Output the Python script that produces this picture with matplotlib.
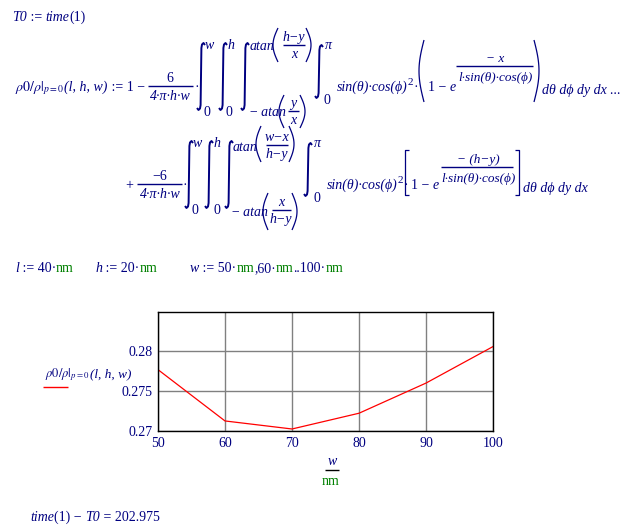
import numpy as np
import matplotlib
matplotlib.use('Agg')
import matplotlib.pyplot as plt
from matplotlib.lines import Line2D

plt.rcParams['font.family'] = 'Liberation Serif'
plt.rcParams['mathtext.fontset'] = 'stix'

# values
w_nm = [50, 60, 70, 80, 90, 100]
ratio = [0.27763, 0.27125, 0.27025, 0.27221, 0.27596, 0.28050]
yticks = [0.27, 0.275, 0.28]
yticklabels = ['0.27', '0.275', '0.28']
xticks = [50, 60, 70, 80, 90, 100]

navy = '#000080'
green = '#008000'
W, H = 639, 532

fig = plt.figure(figsize=(W / 100, H / 100), dpi=100)
r = fig.canvas.get_renderer()


# --- helpers in screen pixels (origin top-left, y is the text baseline) ---
def T(x, y, s, style='i', size=10, color=navy, ha='left'):
    t = fig.text(x / W, 1 - y / H, s, fontsize=size, color=color, ha=ha, va='baseline',
                 fontstyle='italic' if style == 'i' else 'normal')
    return x + t.get_window_extent(renderer=r).width


def chain(x, y, parts, size=10):
    for p in parts:
        s, style = p[0], p[1]
        dy = p[2] if len(p) > 2 else 0
        sz = p[3] if len(p) > 3 else size
        color = p[4] if len(p) > 4 else navy
        x = T(x, y + dy, s, style, sz, color)
    return x


def line(xs, ys, color=navy, lw=1.0):
    fig.add_artist(Line2D(np.array(xs) / W, 1 - np.array(ys) / H, color=color, lw=lw,
                          solid_capstyle='butt'))


def integral(x, top, bot):
    xs = [x + 4, x + 2.5, x + 1, x + 0.4, x - 0.4, x - 1, x - 2.5, x - 4]
    ys = [top + 2, top, top + 1.5, top + 5, bot - 5, bot - 1.5, bot, bot - 2]
    line(xs, ys, lw=1.4)


def paren(x, top, bot, right=False, w=5):
    u = np.linspace(0, 1, 25)
    bulge = w * np.sin(np.pi * u)
    xs = x + bulge if right else x + w - bulge
    line(xs, top + u * (bot - top), lw=0.9)


def bracket(x, top, bot, right=False, w=4):
    if right:
        line([x, x + w, x + w, x], [top, top, bot, bot], lw=0.9)
    else:
        line([x + w, x, x, x + w], [top, top, bot, bot], lw=0.9)


def frac(xc, bar_y, num, den, x0, x1, dn=4, dd=14, sn='i', sd='i', size=10):
    T(xc, bar_y - dn, num, sn, size, ha='center')
    line([x0, x1], [bar_y, bar_y])
    T(xc, bar_y + dd, den, sd, size, ha='center')


# --- T0 := time(1) ---
chain(12, 21, [('T0', 'i'), (' := ', 'n'), ('time', 'i'), ('(1)', 'n')])

# --- first line of the definition ---
chain(15, 91, [(r'$\rho0/\rho|_{p=0}$', 'm'), ('(l, h, w)', 'i'), (' := 1 \u2212 ', 'n')])
frac(170, 86, '6', '4\u00b7\u03c0\u00b7h\u00b7w', 148, 193, sn='n')
T(194, 91, '\u00b7', 'n')
integral(201, 43, 110)
T(205, 49, 'w')
T(204, 116, '0', 'n')
integral(223, 43, 110)
T(227, 49, 'h')
T(226, 116, '0', 'n')
integral(245, 43, 110)
T(250, 50, 'atan')
paren(273, 28, 62)
frac(294, 45, 'h\u2212y', 'x', 283, 305, dd=13)
paren(306, 28, 62, right=True)
T(249, 116, '\u2212\u2009atan')
paren(279, 95, 128)
frac(293, 111, 'y', 'x', 288, 299, dd=13)
paren(300, 95, 128, right=True)
integral(319, 45, 98)
T(325, 49, '\u03c0')
T(324, 104, '0', 'n')
chain(337, 91, [('sin(\u03b8)\u00b7cos(\u03d5)', 'i'), ('2', 'n', -6, 8), ('\u00b7', 'n')])
paren(419, 40, 102)
chain(428, 91, [('1 \u2212 ', 'n'), ('e', 'i')])
frac(495, 66, '\u2212 x', 'l\u00b7sin(\u03b8)\u00b7cos(\u03d5)', 456, 533, dd=15, size=9.5)
paren(534, 40, 102, right=True)
T(542, 94, 'd\u03b8 d\u03d5 dy dx ...')

# --- second line ---
T(125, 189, '+', 'n')
frac(160, 184, '\u22126', '4\u00b7\u03c0\u00b7h\u00b7w', 137, 182, sn='n')
T(182, 189, '\u00b7', 'n')
integral(189, 141, 208)
T(193, 147, 'w')
T(192, 214, '0', 'n')
integral(209, 141, 208)
T(214, 147, 'h')
T(213, 214, '0', 'n')
integral(229, 141, 208)
T(233, 151, 'atan')
paren(256, 126, 162)
frac(277, 145, 'w\u2212x', 'h\u2212y', 266, 288, dd=13)
paren(289, 126, 162, right=True)
T(231, 216, '\u2212\u2009atan')
paren(263, 193, 230)
frac(281, 210, 'x', 'h\u2212y', 272, 291, dd=13)
paren(292, 193, 230, right=True)
integral(308, 143, 196)
T(314, 147, '\u03c0')
T(313, 202, '0', 'n')
chain(327, 189, [('sin(\u03b8)\u00b7cos(\u03d5)', 'i'), ('2', 'n', -6, 8), ('\u00b7', 'n')])
bracket(405, 150, 195)
chain(411, 189, [('1 \u2212 ', 'n'), ('e', 'i')])
frac(478, 167, '\u2212 (h\u2212y)', 'l\u00b7sin(\u03b8)\u00b7cos(\u03d5)', 441, 513, dd=15, size=9.5)
bracket(515, 150, 195, right=True)
T(523, 192, 'd\u03b8 d\u03d5 dy dx')

# --- parameters, units in green ---
chain(15, 272, [('l', 'i'), (' := 40\u00b7', 'n'), ('nm', 'n', 0, 10, green)])
chain(95, 272, [('h', 'i'), (' := 20\u00b7', 'n'), ('nm', 'n', 0, 10, green)])
chain(190, 272, [('w', 'i'), (' := 50\u00b7', 'n'), ('nm', 'n', 0, 10, green),
                 (',60\u00b7', 'n'), ('nm', 'n', 0, 10, green),
                 ('..100\u00b7', 'n'), ('nm', 'n', 0, 10, green)])

# --- the plot ---
ax = fig.add_axes([158 / W, 1 - 431 / H, 335 / W, 119 / H])
ax.plot(w_nm, ratio, color='red', lw=0.9)
ax.set_xlim(50, 100)
ax.set_ylim(0.27, 0.2848)
ax.set_xticks(xticks)
ax.set_yticks(yticks)
ax.set_yticklabels(yticklabels)
ax.grid(True, color='#808080', lw=1)
ax.tick_params(length=0, labelsize=10, labelcolor=navy, pad=4)
for s in ax.spines.values():
    s.set_color('black')
    s.set_linewidth(1)

# legend entry at the left
chain(45, 377, [(r'$\rho0/\rho|_{p=0}$', 'm', 0, 9), ('(l, h, w)', 'i', 0, 9.5)], size=9)
line([43, 68], [387, 387], color='red', lw=1)

# axis label w / nm
T(332, 465, 'w', ha='center')
line([325, 339], [470, 470], color='black')
T(331, 485, 'nm', 'n', color=green, ha='center')

chain(30, 521, [('time', 'i'), ('(1) \u2212 ', 'n'), ('T0', 'i'), (' = 202.975', 'n')])

fig.savefig('out.png', dpi=100)
